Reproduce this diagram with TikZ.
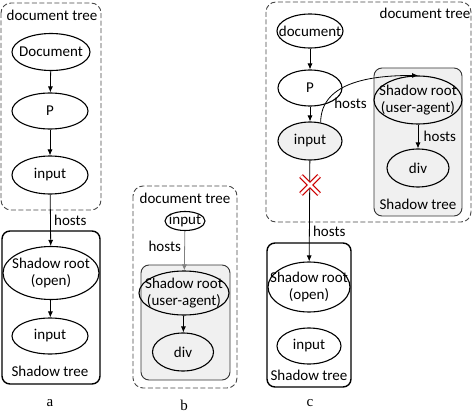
\documentclass[tikz,border=0pt]{standalone}
\usepackage{fontspec}
\setmainfont{Carlito}
\newfontfamily\capfont{Liberation Serif}
\usetikzlibrary{shapes.geometric,arrows.meta}

\tikzstyle{every node}=[font=\fontsize{15}{17}\selectfont]
\tikzstyle{elem}=[ellipse, draw, line width=1.1pt, inner xsep=-11pt, inner ysep=-8pt, align=center]
\tikzstyle{dombox}=[draw, gray!55!black, line width=0.9pt, dash pattern=on 5pt off 2.5pt, rounded corners=10pt]
\tikzstyle{shbox}=[draw, line width=1.4pt, rounded corners=8pt]
\tikzstyle{uabox}=[draw, gray!40!black, fill=gray!12, line width=0.9pt, rounded corners=8pt]
\tikzstyle{link}=[-{Latex[length=6pt,width=5pt]}, line width=0.8pt]

\begin{document}
\begin{tikzpicture}[x=1pt,y=-1pt]
    \useasboundingbox (0,0) rectangle (474,412);
    % containers
    \draw[dombox] (1,3) rectangle (101,210);
    \draw[shbox] (2,231) rectangle (100,384);
    \draw[dombox] (133,186) rectangle (237,388);
    \draw[uabox] (141,265) rectangle (230,380);
    \draw[dombox] (266,2) rectangle (471,222);
    \draw[uabox] (374,68) rectangle (462,216);
    \draw[shbox] (267,243) rectangle (351,387);

    % a
    \node (aTree) at (52,15) {document tree};
    \node[elem, minimum width=78, minimum height=37] (aDoc) at (51,52) {Document};
    \node[elem, minimum width=76, minimum height=36] (aP) at (50,111) {P};
    \node[elem, minimum width=76, minimum height=38] (aIn) at (50,175) {input};
    \node[elem, minimum width=96, minimum height=53] (aRoot) at (51,273) {Shadow root\\(open)};
    \node[elem, minimum width=76, minimum height=36] (aShIn) at (50,336) {input};
    \node (aShTree) at (50,371) {Shadow tree};
    \node[font=\capfont\fontsize{15}{17}\selectfont] (aCap) at (50,403) {a};

    % b
    \node (bTree) at (185,198) {document tree};
    \node[elem, minimum width=40, minimum height=19] (bIn) at (185,221) {input};
    \node[elem, minimum width=90, minimum height=44] (bRoot) at (184,293) {Shadow root\\(user-agent)};
    \node[elem, minimum width=61, minimum height=38] (bDiv) at (183,352) {div};
    \node[font=\capfont\fontsize{15}{17}\selectfont] (bCap) at (184,405) {b};

    % c
    \node (cTree) at (425,13) {document tree};
    \node[elem, minimum width=66, minimum height=34] (cDoc) at (310,31) {document};
    \node[elem, minimum width=64, minimum height=36] (cP) at (310,88) {P};
    \node[elem, fill=gray!12, minimum width=64, minimum height=38] (cIn) at (310,141) {input};
    \node[elem, minimum width=88, minimum height=48] (cRoot) at (418,100) {Shadow root\\(user-agent)};
    \node[elem, minimum width=62, minimum height=38] (cDiv) at (418,168) {div};
    \node (cUaTree) at (418,204) {Shadow tree};
    \node[elem, minimum width=82, minimum height=50] (cOpen) at (309,287) {Shadow root\\(open)};
    \node[elem, minimum width=64, minimum height=36] (cShIn) at (309,346) {input};
    \node (cShTree) at (309,375) {Shadow tree};
    \node[font=\capfont\fontsize{15}{17}\selectfont] (cCap) at (310,403) {c};
    \coordinate (cBlock) at (310,185);

    \path[link]
    (aDoc) edge (aP)
    (aP) edge (aIn)
    (aIn) edge node[right] {hosts} (aRoot)
    (aRoot) edge (aShIn)
    (bIn) edge[gray] node[pos=0.4, left, black] {hosts} (bRoot)
    (bRoot) edge (bDiv)
    (cDoc) edge (cP)
    (cP) edge (cIn)
    (cIn.60) edge[out=90, in=180] node[pos=0.18, right=5pt] {hosts} (cRoot.north)
    (cRoot) edge node[right=2pt] {hosts} (cDiv)
    (cIn) edge node[pos=0.7, right] {hosts} (cOpen)
	;
    % blocked mark
    \draw[red!80!black, line width=5pt] ([shift={(-9,-9)}]cBlock) -- ([shift={(9,9)}]cBlock)
      ([shift={(-9,9)}]cBlock) -- ([shift={(9,-9)}]cBlock);
    \draw[white, line width=2.6pt] ([shift={(-9,-9)}]cBlock) -- ([shift={(9,9)}]cBlock)
      ([shift={(-9,9)}]cBlock) -- ([shift={(9,-9)}]cBlock);
  \end{tikzpicture}
\end{document}
